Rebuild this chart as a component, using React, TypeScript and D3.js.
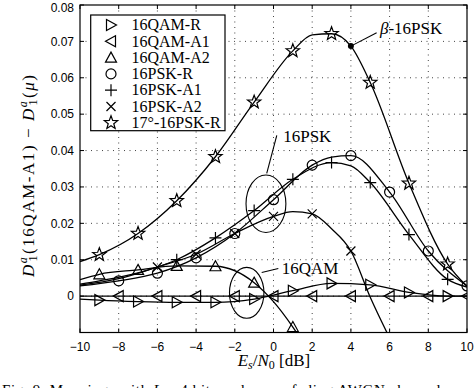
import React from 'react'
import * as d3 from 'd3'

// Es/N0 knots and values, one pair of arrays per curve
const xQamR = [-10, -9, -7, -5, -3, -1, 1, 3, 5, 7, 9, 10]
const yQamR = [-0.0008, -0.0011, -0.0015, -0.0017, -0.0017, -0.0008, 0.0015, 0.0035, 0.0031, 0.001, 0.0, 0.0]
const mQamR = [-9, -7, -5, -3, -1, 1, 3, 5, 7, 9]

const xQamA1 = [-10, -8, -6, -4, -2, 0, 2, 4, 6, 8, 10]
const yQamA1 = [0, 0, 0, 0, 0, 0, 0, 0, 0, 0, 0]
const mQamA1 = [-8, -6, -4, -2, 0, 2, 4, 6, 8, 10]

const xQamA2 = [-10, -9, -7, -5, -3, -1, 0, 1, 1.5]
const yQamA2 = [0.0045, 0.006, 0.0072, 0.0083, 0.0082, 0.0037, -0.0015, -0.0085, -0.0125]
const mQamA2 = [-9, -7, -5, -3, -1, 1]

const xPskR = [-10, -8, -6, -4, -2, 0, 2, 3, 4, 6, 8, 10]
const yPskR = [0.0028, 0.0042, 0.0063, 0.0105, 0.0172, 0.0265, 0.036, 0.0382, 0.0386, 0.0286, 0.0124, 0.0028]
const mPskR = [-8, -6, -4, -2, 0, 2, 4, 6, 8, 10]

const xPskA1 = [-10, -9, -7, -5, -3, -1, 1, 3, 4, 5, 7, 9, 10]
const yPskA1 = [0.0033, 0.0042, 0.0064, 0.01, 0.016, 0.0235, 0.0321, 0.0367, 0.0358, 0.0312, 0.0169, 0.0046, 0.0025]
const mPskA1 = [-5, -3, -1, 1, 3, 5, 7, 9]

const xPskA2 = [-10, -8, -6, -4, -2, 0, 1, 2, 3, 4, 5, 6]
const yPskA2 = [0.003, 0.0048, 0.008, 0.0115, 0.0172, 0.0219, 0.0232, 0.0226, 0.0185, 0.0124, -0.0003, -0.0115]
const mPskA2 = [-6, -4, -2, 0, 2, 4]

const xStar = [-10, -9, -7, -5, -3, -1, 1, 2, 3, 4, 5, 7, 9, 10]
const yStar = [0.0095, 0.0114, 0.0172, 0.0262, 0.0383, 0.0533, 0.0674, 0.0718, 0.0721, 0.0687, 0.0587, 0.031, 0.0088, 0.0027]
const mStar = [-9, -7, -5, -3, -1, 1, 3, 5, 7, 9]

const legendLabels = ['16QAM-R', '16QAM-A1', '16QAM-A2', '16PSK-R', '16PSK-A1', '16PSK-A2', '17°-16PSK-R']
const xTicks = [-10, -8, -6, -4, -2, 0, 2, 4, 6, 8, 10]
const yTicks = [-0.01, 0, 0.01, 0.02, 0.03, 0.04, 0.05, 0.06, 0.07, 0.08]
const yTickLabels = ['', '0', '0.01', '0.02', '0.03', '0.04', '0.05', '0.06', '0.07', '0.08']

// beta-16PSK point on the star curve
const betaPoint = [4, 0.0687]

const W = 474
const H = 388
const left = 80
const right = 467
const top = 5
const bottom = 332.5

const serif = '"Liberation Serif", "Times New Roman", serif'
const sans = '"Liberation Sans", Arial, sans-serif'

const starPath = (() => {
  const pts: string[] = []
  for (let i = 0; i < 10; i++) {
    const r = i % 2 === 0 ? 7 : 2.9
    const a = -Math.PI / 2 + (i * Math.PI) / 5
    pts.push(`${(r * Math.cos(a)).toFixed(2)},${(r * Math.sin(a)).toFixed(2)}`)
  }
  return 'M' + pts.join('L') + 'Z'
})()

const symbols: Record<string, string> = {
  triRight: 'M-4.5,-5.5L5.5,0L-4.5,5.5Z',
  triLeft: 'M4.5,-5.5L-5.5,0L4.5,5.5Z',
  triUp: 'M0,-5.5L5.5,4.5L-5.5,4.5Z',
  circle: 'M5,0A5,5 0 1,1 -5,0A5,5 0 1,1 5,0Z',
  plus: 'M-6,0H6M0,-6V6',
  cross: 'M-4.5,-4.5L4.5,4.5M-4.5,4.5L4.5,-4.5',
  star: starPath,
}

const series = [
  { xs: xQamR, ys: yQamR, marks: mQamR, sym: 'triRight' },
  { xs: xQamA1, ys: yQamA1, marks: mQamA1, sym: 'triLeft' },
  { xs: xQamA2, ys: yQamA2, marks: mQamA2, sym: 'triUp' },
  { xs: xPskR, ys: yPskR, marks: mPskR, sym: 'circle' },
  { xs: xPskA1, ys: yPskA1, marks: mPskA1, sym: 'plus' },
  { xs: xPskA2, ys: yPskA2, marks: mPskA2, sym: 'cross' },
  { xs: xStar, ys: yStar, marks: mStar, sym: 'star' },
]

export default function App() {
  const x = d3.scaleLinear().domain([-10, 10]).range([left, right])
  const y = d3.scaleLinear().domain([-0.01, 0.08]).range([bottom, top])

  const line = d3
    .line<[number, number]>()
    .x((d) => x(d[0]))
    .y((d) => y(d[1]))
    .curve(d3.curveMonotoneX)

  const legendRows = legendLabels.map((lab, i) => ({ lab, sym: series[i].sym, cy: 25 + i * 16.3 }))

  return (
    <svg width={W} height={H} style={{ position: 'absolute', left: 0, top: 0, background: '#fff' }}>
      <defs>
        <clipPath id="plot">
          <rect x={left} y={top} width={right - left} height={bottom - top} />
        </clipPath>
      </defs>
      <rect width={W} height={H} fill="#fff" />

      {/* grid */}
      <g stroke="#444" strokeWidth={1} strokeDasharray="1,4.5">
        {xTicks.slice(1, -1).map((t) => (
          <line key={'gx' + t} x1={x(t)} x2={x(t)} y1={top} y2={bottom} />
        ))}
        {yTicks.slice(1, -1).map((t) => (
          <line key={'gy' + t} x1={left} x2={right} y1={y(t)} y2={y(t)} />
        ))}
      </g>

      {/* ticks on all four sides, pointing in */}
      <g stroke="#000" strokeWidth={1}>
        {xTicks.map((t) => (
          <g key={'tx' + t}>
            <line x1={x(t)} x2={x(t)} y1={bottom} y2={bottom - 4} />
            <line x1={x(t)} x2={x(t)} y1={top} y2={top + 4} />
          </g>
        ))}
        {yTicks.map((t) => (
          <g key={'ty' + t}>
            <line x1={left} x2={left + 4} y1={y(t)} y2={y(t)} />
            <line x1={right} x2={right - 4} y1={y(t)} y2={y(t)} />
          </g>
        ))}
      </g>

      {/* curves */}
      <g clipPath="url(#plot)" fill="none" stroke="#000" strokeWidth={1.3}>
        {series.map((s, i) => (
          <path key={'l' + i} d={line(s.xs.map((v, j) => [v, s.ys[j]] as [number, number])) || ''} />
        ))}
        {series.map((s, i) =>
          s.marks.map((m) => {
            const j = s.xs.indexOf(m)
            return (
              <path
                key={'m' + i + '_' + m}
                d={symbols[s.sym]}
                transform={`translate(${x(m)},${y(s.ys[j])})`}
                strokeWidth={1.2}
              />
            )
          })
        )}
        <circle cx={x(betaPoint[0])} cy={y(betaPoint[1])} r={3} fill="#000" stroke="none" />
      </g>

      {/* annotations */}
      <g fill="none" stroke="#000" strokeWidth={1.1}>
        <ellipse cx={x(-0.39)} cy={y(0.0254)} rx={x(1.03) - x(0)} ry={y(0) - y(0.0079)} />
        <ellipse cx={x(-1.385)} cy={y(0.0009)} rx={x(0.89) - x(0)} ry={y(0) - y(0.007)} />
        <line x1={x(-0.35)} y1={y(0.0337)} x2={x(0.17)} y2={y(0.0442)} />
        <line x1={x(-0.61)} y1={y(0.0065)} x2={x(0.25)} y2={y(0.0076)} />
        <line x1={x(betaPoint[0])} y1={y(betaPoint[1])} x2={x(5.33)} y2={y(0.0724)} />
      </g>
      <g fontFamily={serif} fontSize={17} fill="#000">
        <text x={x(0.5)} y={y(0.0423)}>16PSK</text>
        <text x={x(0.42)} y={y(0.006)}>16QAM</text>
        <text x={x(5.5)} y={y(0.0719)}>
          <tspan fontStyle="italic">β</tspan>-16PSK
        </text>
      </g>

      {/* frame */}
      <rect x={left} y={top} width={right - left} height={bottom - top} fill="none" stroke="#000" strokeWidth={1.2} />

      {/* tick labels */}
      <g fontFamily={sans} fontSize={12} fill="#000">
        {xTicks.map((t) => (
          <text key={'xl' + t} x={x(t)} y={351} textAnchor="middle">
            {t < 0 ? '−' + Math.abs(t) : String(t)}
          </text>
        ))}
        {yTicks.map((t, i) => (
          <text key={'yl' + t} x={74} y={Math.max(y(t), 7.5)} dy="0.35em" textAnchor="end">
            {yTickLabels[i]}
          </text>
        ))}
      </g>

      {/* legend */}
      <rect x={90.7} y={15} width={134.3} height={115.7} fill="#fff" stroke="#000" strokeWidth={1.2} />
      {legendRows.map((r) => (
        <g key={r.lab}>
          <path d={symbols[r.sym]} transform={`translate(111,${r.cy})`} fill="none" stroke="#000" strokeWidth={1.2} />
          <text x={131.5} y={r.cy} dy="0.33em" fontFamily={serif} fontSize={16}>
            {r.lab}
          </text>
        </g>
      ))}

      {/* axis labels */}
      <text x={274} y={366} textAnchor="middle" fontFamily={serif} fontSize={17}>
        <tspan fontStyle="italic">E</tspan>
        <tspan fontSize={12} dy={3} fontStyle="italic">s</tspan>
        <tspan dy={-3}>/</tspan>
        <tspan fontStyle="italic">N</tspan>
        <tspan fontSize={12} dy={3}>0</tspan>
        <tspan dy={-3}> [dB]</tspan>
      </text>
      <text
        transform="translate(34,176) rotate(-90)"
        textAnchor="middle"
        fontFamily={serif}
        fontSize={17}
        textLength={202}
        lengthAdjust="spacing"
      >
        <tspan fontStyle="italic">D</tspan>
        <tspan fontSize={12} dy={-7} fontStyle="italic">a</tspan>
        <tspan fontSize={12} dx={-6} dy={10}>1</tspan>
        <tspan dy={-3}>(16QAM-A1) − </tspan>
        <tspan fontStyle="italic">D</tspan>
        <tspan fontSize={12} dy={-7} fontStyle="italic">a</tspan>
        <tspan fontSize={12} dx={-6} dy={10}>1</tspan>
        <tspan dy={-3}>(</tspan>
        <tspan fontStyle="italic">μ</tspan>
        <tspan>)</tspan>
      </text>

      {/* caption, cut by the bottom edge as in the source */}
      <text x={2} y={394.5} fontFamily={serif} fontSize={15} textLength={443} lengthAdjust="spacing">
        Fig. 9.   Mappings with <tspan fontStyle="italic">L</tspan> = 4 bits and a non-fading AWGN channel.
      </text>
    </svg>
  )
}
